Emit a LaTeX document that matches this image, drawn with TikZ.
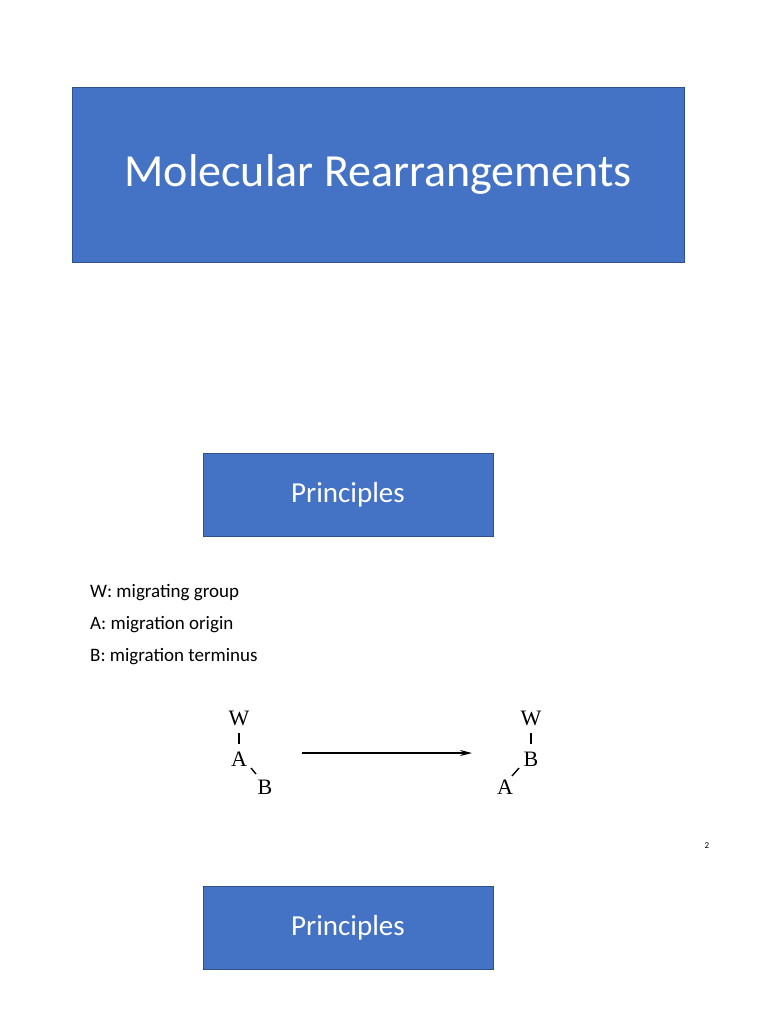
\documentclass[tikz,border=0pt]{standalone}
\usepackage{fontspec}
\setmainfont{Carlito}
\newfontfamily\chemfont{Liberation Serif}
\usetikzlibrary{arrows.meta}
\definecolor{boxblue}{HTML}{4472C4}
\definecolor{boxedge}{HTML}{2F528F}
\begin{document}
\begin{tikzpicture}[x=1pt,y=-1pt,
  bluebox/.style={draw=boxedge,line width=0.8pt,fill=boxblue,text=white,inner sep=0pt},
  listtxt/.style={anchor=west,font=\fontsize{19}{21}\selectfont,inner sep=0pt},
  atom/.style={font=\chemfont\fontsize{22}{24}\selectfont,inner sep=1pt},
  bond/.style={line width=1.4pt}]
\useasboundingbox[fill=white] (0,0) rectangle (768,1024);
\node[bluebox,minimum width=612,minimum height=175,font=\fontsize{46}{50}\selectfont] (title) at (378,174.5) {Molecular Rearrangements};
\node[bluebox,minimum width=290,minimum height=83,font=\fontsize{29}{32}\selectfont] (p1) at (348,494.5) {Principles};
\node[bluebox,minimum width=290,minimum height=83,font=\fontsize{29}{32}\selectfont] (p2) at (348,927.5) {Principles};
\node[listtxt] (l1) at (90,593) {W: migrating group};
\node[listtxt] (l2) at (90,625) {A: migration origin};
\node[listtxt] (l3) at (90,657) {B: migration terminus};
\node[font=\fontsize{9}{10}\selectfont,inner sep=0pt] (pg) at (707,846) {2};
\node[atom] (w1) at (239,718) {W};
\node[atom] (a1) at (239,759) {A};
\node[atom] (b1) at (265,787) {B};
\node[atom] (w2) at (531,718) {W};
\node[atom] (b2) at (531,759) {B};
\node[atom] (a2) at (505,787) {A};
\draw[bond] (239,733) -- (239,744);
\draw[bond] (251,768) -- (256,774);
\draw[bond] (531,733) -- (531,744);
\draw[bond] (519,768) -- (512,776);
\coordinate (s) at (302,753);
\coordinate (e) at (472,753);
\draw[line width=1.2pt,-{Stealth[length=12pt,width=6pt]}] (s) -- (e);
\end{tikzpicture}
\end{document}
